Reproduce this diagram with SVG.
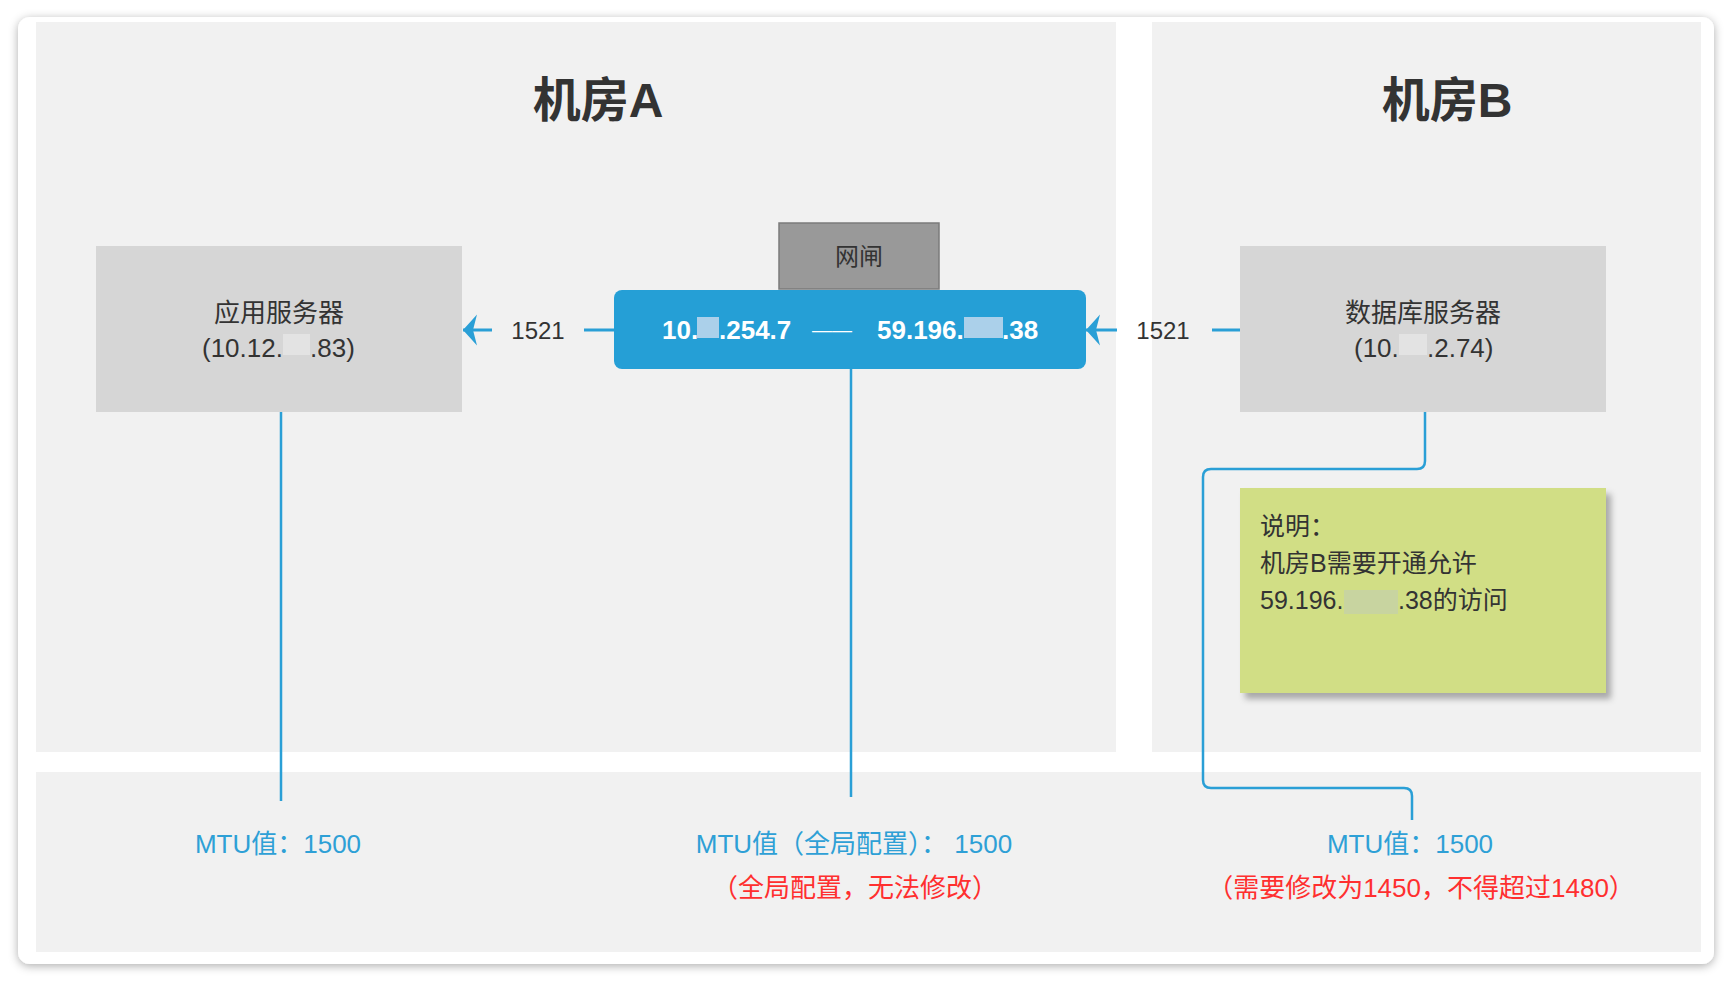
<svg xmlns="http://www.w3.org/2000/svg" width="1732" height="982" viewBox="0 0 1732 982">
<defs>
<style>
text{font-family:"Liberation Sans","Noto Sans CJK SC",sans-serif;}
.t{font-size:25px;fill:#333;}
.bt{font-size:26px;fill:#333;}
.title{font-size:48px;font-weight:bold;fill:#333;text-anchor:middle;}
.mid{text-anchor:middle;}
.ip{font-size:26px;font-weight:bold;fill:#fff;}
.panel{fill:#f1f1f1;}
.box{fill:#d6d6d6;}
.mtu{font-size:26px;fill:#2ea0d6;text-anchor:middle;}
.warn{font-size:26px;fill:#ff2f2f;text-anchor:middle;}
.conn{fill:none;stroke:#2a9fd6;stroke-width:2.5;}
.arr{fill:none;stroke:#2a9fd6;stroke-width:3;marker-end:url(#arrow);}
</style>
<filter id="cardShadow" x="-5%" y="-5%" width="110%" height="110%">
<feDropShadow dx="0" dy="2" stdDeviation="5" flood-color="#000" flood-opacity="0.32"/>
</filter>
<filter id="noteShadow" x="-10%" y="-10%" width="125%" height="130%">
<feDropShadow dx="5" dy="6" stdDeviation="3" flood-color="#000" flood-opacity="0.3"/>
</filter>
<marker id="arrow" markerUnits="userSpaceOnUse" viewBox="-16 -17 18 34" markerWidth="18" markerHeight="34" refX="0" refY="0" orient="auto">
<path d="M0,0 L-14,-15.5 L-10,0 L-14,15.5 Z" fill="#2a9fd6"/>
</marker>
</defs>
<rect x="0" y="0" width="1732" height="982" fill="#fff"/>
<rect x="18" y="17" width="1696" height="947" rx="12" fill="#fff" filter="url(#cardShadow)"/>

<g id="room-a">
<rect class="panel" x="36" y="22" width="1080" height="730"/>
<text class="title" x="598" y="117">机房A</text>
</g>
<g id="room-b">
<rect class="panel" x="1152" y="22" width="549" height="730"/>
<text class="title" x="1447" y="117">机房B</text>
</g>
<g id="mtu-panel">
<rect class="panel" x="36" y="772" width="1665" height="180"/>
</g>

<g id="app-server">
<rect class="box" x="96" y="246" width="366" height="166"/>
<text class="bt mid" x="279" y="322">应用服务器</text>
<text class="bt" x="202" y="357">(10.12.</text>
<rect x="283" y="334" width="27" height="21" fill="#e3e3e3"/>
<text class="bt" x="310" y="357">.83)</text>
</g>

<g id="gateway">
<rect x="779" y="223" width="160" height="66" fill="#999" stroke="#7b7b7b" stroke-width="1.5"/>
<text class="mid" x="859" y="265" font-size="24" fill="#333">网闸</text>
</g>

<g id="gateway-ip">
<rect x="614" y="290" width="472" height="79" rx="8" fill="#259fd6"/>
<text class="ip" x="662" y="339">10.</text>
<rect x="697" y="317" width="22" height="21" fill="#abd0ea"/>
<text class="ip" x="719" y="339">.254.7</text>
<text class="mid" x="832" y="337" font-size="20" fill="#fff" font-family="Noto Sans CJK SC">——</text>
<text class="ip" x="877" y="339">59.196.</text>
<rect x="964" y="317" width="39" height="21" fill="#abd0ea"/>
<text class="ip" x="1002" y="339">.38</text>
</g>

<g id="db-server">
<rect class="box" x="1240" y="246" width="366" height="166"/>
<text class="bt mid" x="1423" y="322">数据库服务器</text>
<text class="bt" x="1354" y="357">(10.</text>
<rect x="1399" y="334" width="28" height="21" fill="#e3e3e3"/>
<text class="bt" x="1427" y="357">.2.74)</text>
</g>

<g id="note">
<rect x="1240" y="488" width="366" height="205" fill="#d1de85" filter="url(#noteShadow)"/>
<text class="t" x="1260" y="535">说明：</text>
<text class="t" x="1260" y="572">机房B需要开通允许</text>
<text class="t" x="1260" y="609">59.196.</text>
<rect x="1344" y="590" width="54" height="24" fill="#c8d4a0"/>
<text class="t" x="1398" y="609">.38的访问</text>
</g>

<g id="mtu-app">
<text class="mtu" x="278" y="853">MTU值：1500</text>
</g>
<g id="mtu-gateway">
<text class="mtu" x="854" y="853">MTU值（全局配置）： 1500</text>
<text class="warn" x="855" y="897">（全局配置，无法修改）</text>
</g>
<g id="mtu-db">
<text class="mtu" x="1410" y="853">MTU值：1500</text>
<text class="warn" x="1421" y="897">（需要修改为1450，不得超过1480）</text>
</g>

<g id="connectors">
<path class="arr" d="M614,330 H584 M492,330 H463"/>
<text class="mid" x="538" y="339" font-size="24" fill="#333">1521</text>
<path class="arr" d="M1240,330 H1212 M1117,330 H1086"/>
<text class="mid" x="1163" y="339" font-size="24" fill="#333">1521</text>
<path class="conn" d="M281,412 V801"/>
<path class="conn" d="M851,369 V797"/>
<path class="conn" d="M1425,412 V461 Q1425,469 1417,469 H1211 Q1203,469 1203,477 V780 Q1203,788 1211,788 H1404 Q1412,788 1412,796 V820"/>
</g>
</svg>
